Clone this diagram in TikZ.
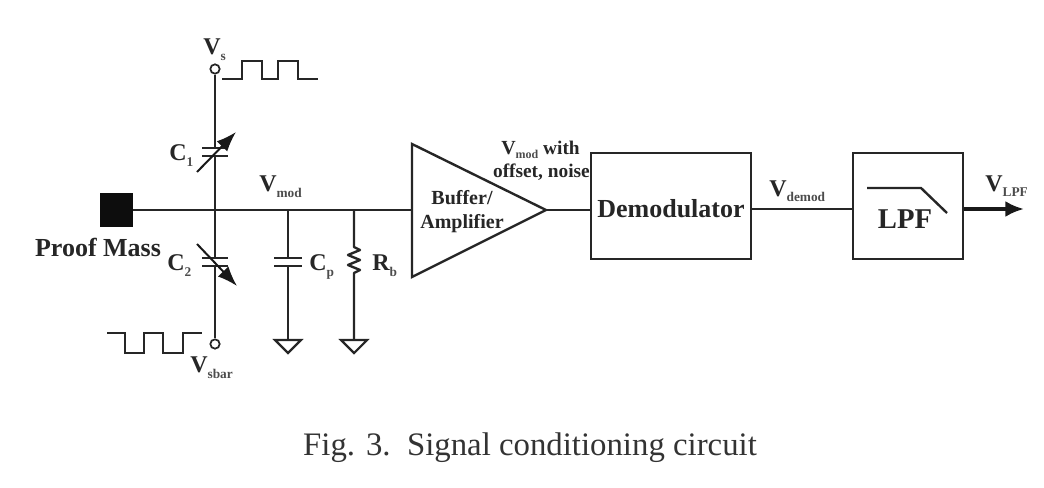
\documentclass[tikz,border=0pt]{standalone}
\usepackage{fontspec}
\setmainfont{Liberation Serif}
\usetikzlibrary{calc,arrows.meta}

\newcommand{\fsz}[1]{\fontsize{#1}{#1}\selectfont}
\newcommand{\subbed}[2]{{\fsz{18}#1}\raisebox{-4.5pt}{\fsz{10}\color{black!70}#2}}

\tikzset{
    wire/.style={line width=1.8pt, draw=black!85},
    lab/.style={font=\bfseries\fsz{18}, inner sep=0pt, anchor=base west, text=black!85},
    boxed/.style={draw=black!85, line width=1.8pt},
    term/.style={circle, draw=black!85, line width=1.3pt, fill=white, minimum size=7pt, inner sep=0pt},
    gnd/.style={line width=1.6pt, draw=black!85, line join=miter},
    tune/.style={line width=1.5pt, draw=black!90, fill=black!90, -{Latex[length=15pt,width=11pt]}},
}

\begin{document}
\begin{tikzpicture}[x=0.75pt, y=-0.75pt]
        \useasboundingbox (0,0) rectangle (1044,488);
        
        \coordinate (CpTop) at (288,210);
        \coordinate (RbTop) at (354,210);
        \coordinate (CpGnd) at (288,340);
        \coordinate (RbGnd) at (354,340);
        \coordinate (AmpIn) at (412,210);
        \coordinate (AmpOut) at (546,210);
        \coordinate (Out) at (1024,209);
        
        % Blocks.
        \node[fill=black!95, minimum size=24.75pt, inner sep=0pt] (Mass) at (116.5,210) {};
        \node[lab, anchor=base, font=\bfseries\fsz{19.5}] (MassText) at (98,256) {Proof Mass};
        \node[term] (Vs) at (215,69) {};
        \node[term] (Vsbar) at (215,344) {};
        \draw[boxed, fill=white, line join=miter] (412,144) -- (412,277) -- (546,210) -- cycle;
        \node[boxed, minimum width=120pt, minimum height=79.5pt, inner sep=0pt] (Demod) at (671,206) {};
        \node[boxed, minimum width=82.5pt, minimum height=79.5pt, inner sep=0pt] (Lpf) at (908,206) {};
        
        % Wires.
        \draw[wire] (Mass) -- (AmpIn);
        \draw[wire] (Vs) -- (Vsbar);
        \draw[wire] (AmpOut) -- (AmpOut -| Demod.west);
        \draw[wire] (Demod.east |- Out) -- (Lpf.west |- Out);
        \draw[line width=2.6pt, draw=black!90, -{Latex[length=14pt,width=12pt]}] (Lpf.east |- Out) -- (Out);
        
        % C1 and C2.
        \fill[white] (205,149) rectangle (225,155);
        \draw[wire] (202,148) -- (228,148) (202,156) -- (228,156);
        \draw[tune] (197,172) -- (236,132);
        \fill[white] (205,259) rectangle (225,265);
        \draw[wire] (202,258) -- (228,258) (202,266) -- (228,266);
        \draw[tune] (197,244) -- (237,286);
        
        % Cp and ground.
        \draw[wire] (CpTop) -- (288,258) (288,266) -- (CpGnd);
        \draw[wire] (274,258) -- (302,258) (274,266) -- (302,266);
        \draw[gnd] (CpGnd) ++(-13,0) -- ++(26,0) -- ++(-13,13) -- cycle;
        
        % Rb and ground.
        \draw[wire, line join=round] (RbTop) -- (354,247) -- ++(6,3) -- ++(-12,5) -- ++(12,5) -- ++(-12,5) -- ++(12,5) -- ++(-6,3) -- (RbGnd);
        \draw[gnd] (RbGnd) ++(-13,0) -- ++(26,0) -- ++(-13,13) -- cycle;
        
        % Square waves.
        \draw[wire] (222,79) -- (242,79) -- (242,61) -- (262,61) -- (262,79) -- (278,79) -- (278,61) -- (298,61) -- (298,79) -- (318,79);
        \draw[wire] (107,333) -- (125,333) -- (125,353) -- (144,353) -- (144,333) -- (163,333) -- (163,353) -- (183,353) -- (183,333) -- (202,333);
        
        % LPF curve.
        \draw[wire] (867,188) -- (921,188) -- (947,213);
        
        % Labels.
        \node[lab] (VsText) at (203,55) {\subbed{V}{s}};
        \node[lab] (VsbarText) at (190,372) {\subbed{V}{sbar}};
        \node[lab] (ModText) at (259,192) {\subbed{V}{mod}};
        \node[lab] (OneText) at (169,161) {\subbed{C}{1}};
        \node[lab] (TwoText) at (167,270) {\subbed{C}{2}};
        \node[lab] (CpText) at (309,270) {\subbed{C}{p}};
        \node[lab] (RbText) at (372,270) {\subbed{R}{b}};
        \node[lab, font=\bfseries\fsz{15}, anchor=center, align=center] (AmpText) at (462,212) {Buffer/\\[3pt]Amplifier};
        \node[lab, font=\bfseries\fsz{14.5}, anchor=base east] (WithText) at (580,155) {{\fsz{15}V}\raisebox{-3pt}{\fsz{9}\color{black!70}mod} with};
        \node[lab, font=\bfseries\fsz{14.5}, anchor=base east] (NoiseText) at (590,178) {offset, noise};
        \node[lab, font=\bfseries\fsz{19.5}, anchor=center] (DemodText) at (Demod |- Out) {Demodulator};
        \node[lab] (DemodV) at (769,196) {\subbed{V}{demod}};
        \node[lab, font=\bfseries\fsz{21.5}, anchor=center] (LpfText) at (905,219) {LPF};
        \node[lab] (LpfV) at (985,191) {\subbed{V}{LPF}};
        
        % Caption.
        \node[inner sep=0pt, font=\fsz{24.6}, text=black!80] (Caption) at (530,448) {Fig. 3.\ \ Signal conditioning circuit};
    \end{tikzpicture}
\end{document}
